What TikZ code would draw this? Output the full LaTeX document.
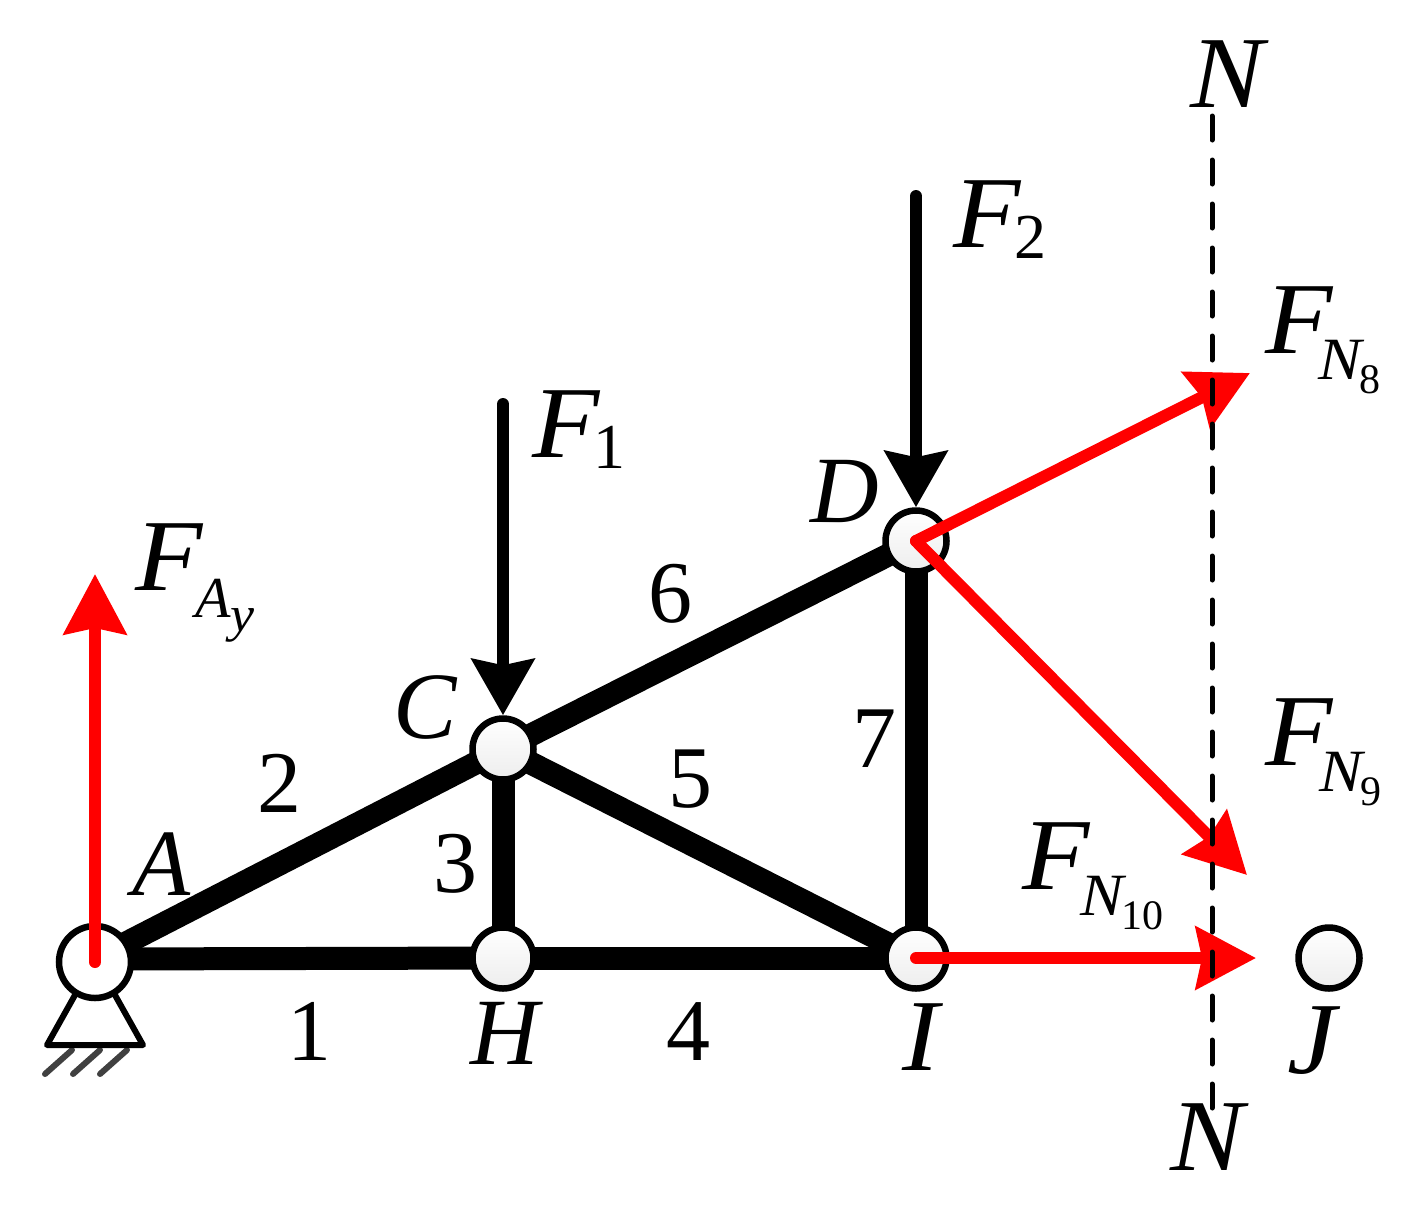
\documentclass[tikz,border=0pt]{standalone}
\usepackage{fontspec}
\setmainfont{Liberation Serif}
\newfontfamily\wideff[FakeStretch=1.08]{Liberation Serif}
\usetikzlibrary{arrows.meta}
\newcommand{\bigf}{\fontsize{95}{95}\selectfont}
\newcommand{\widef}{\fontsize{102}{102}\selectfont\wideff\itshape}
\newcommand{\midf}{\fontsize{60}{60}\selectfont\wideff\itshape}
\newcommand{\smlf}{\fontsize{42}{42}\selectfont\normalfont}
\newcommand{\forcelbl}[3]{{\widef F}\kern#3\raisebox{-26pt}{{\midf #1}\kern-2pt\raisebox{-14pt}{\smlf #2}}}
\newcommand{\plainlbl}[1]{{\widef F}\kern-6pt\raisebox{-11pt}{\fontsize{64}{64}\selectfont\normalfont #1}}
\tikzset{
  x=1pt,y=-1pt,
  joint/.style={circle,draw=black,line width=6.5pt,minimum size=61pt,inner sep=0pt,top color=white,bottom color=black!7},
  pin/.style={circle,draw=black,line width=6.5pt,minimum size=72pt,inner sep=0pt,fill=white},
  beam/.style={line width=23pt,black},
  redforce/.style={line width=12pt,red,line cap=round,-{Stealth[length=60pt,width=62pt,inset=6pt]}},
  blackforce/.style={line width=12pt,black,line cap=round,-{Stealth[length=56pt,width=62pt,inset=6pt]}},
  section/.style={line width=5pt,black,line cap=round,dash pattern=on 24pt off 20pt},
  support/.style={line width=6pt,black,line join=round,line cap=round},
  hatch/.style={line width=6pt,black!75,line cap=round},
  lbl/.style={anchor=base west,inner sep=0pt,outer sep=0pt},
  num/.style={lbl,font=\fontsize{88}{88}\selectfont},
  letter/.style={lbl,font=\bigf\itshape},
  wideletter/.style={lbl,font=\widef}
}
\begin{document}
\begin{tikzpicture}
\useasboundingbox (0,0) rectangle (1423,1205);
\coordinate (Ac) at (95,959);
\coordinate (Cc) at (503,749);
\coordinate (Hc) at (503,958);
\coordinate (Ic) at (916,958);
\coordinate (Dc) at (916,541);
\draw[beam] (Ac) -- (Hc);
\draw[beam] (Hc) -- (Ic);
\draw[beam] (Ac) -- (Cc);
\draw[beam] (Cc) -- (Dc);
\draw[beam] (Cc) -- (Hc);
\draw[beam] (Cc) -- (Ic);
\draw[beam] (Dc) -- (Ic);
\coordinate (s1) at (75,995);
\coordinate (s2) at (47,1045);
\coordinate (s3) at (143,1045);
\coordinate (s4) at (115,995);
\coordinate (h1a) at (72,1050); \coordinate (h1b) at (45,1074);
\coordinate (h2a) at (100,1050); \coordinate (h2b) at (73,1074);
\coordinate (h3a) at (127,1050); \coordinate (h3b) at (100,1074);
\draw[hatch] (h1a) -- (h1b);
\draw[hatch] (h2a) -- (h2b);
\draw[hatch] (h3a) -- (h3b);
\draw[support] (s1) -- (s2) -- (s3) -- (s4);
\node[pin] (A) at (95,962) {};
\node[joint] (C) at (Cc) {};
\node[joint] (H) at (Hc) {};
\node[joint] (I) at (Ic) {};
\node[joint] (D) at (Dc) {};
\node[joint] (J) at (1329,958) {};
\coordinate (ftA) at (95,574);
\coordinate (ft8) at (1250,373);
\coordinate (ft9) at (1247,875);
\coordinate (ft10) at (1256,958);
\coordinate (f1s) at (503,404);
\coordinate (f2s) at (916,196);
\draw[blackforce] (f1s) -- (C.north);
\draw[blackforce] (f2s) -- (D.north);
\draw[redforce] (A.center) -- (ftA);
\draw[redforce] (D.center) -- (ft8);
\draw[redforce] (D.center) -- (ft9);
\draw[redforce] (I.center) -- (ft10);
\coordinate (nt) at (1212,116);
\coordinate (nb) at (1212,1108);
\draw[section] (nt) -- (nb);
\node[letter] (lA) at (132,895) {A};
\node[letter] (lC) at (393,738) {C};
\node[letter] (lD) at (810,522) {D};
\node[letter] (lH) at (470,1064) {H};
\node[wideletter] (lI) at (902,1070) {I};
\node[wideletter] (lJ) at (1287,1073) {J};
\node[wideletter] (lNt) at (1190,107) {N};
\node[wideletter] (lNb) at (1170,1170) {N};
\node[num] (n1) at (287,1060) {1};
\node[num] (n2) at (257,812) {2};
\node[num] (n3) at (433,892) {3};
\node[num] (n4) at (666,1060) {4};
\node[num] (n5) at (668,807) {5};
\node[num] (n6) at (648,622) {6};
\node[num] (n7) at (852,767) {7};
\node[lbl] (lF1) at (532,457) {\plainlbl{1}};
\node[lbl] (lF2) at (953,247) {\plainlbl{2}};
\node[lbl] (lFA) at (135,590) {{\widef F}\kern-7pt\raisebox{-27pt}{{\fontsize{58}{58}\selectfont\normalfont\itshape A}\kern0pt\raisebox{-14pt}{\midf\fontsize{50}{50}\selectfont y}}};
\node[lbl] (lF8) at (1265,353) {\forcelbl{N}{8}{-14pt}};
\node[lbl] (lF9) at (1265,765) {\forcelbl{N}{9}{-13pt}};
\node[lbl] (lF10) at (1022,889) {\forcelbl{N}{10}{-9pt}};
\end{tikzpicture}
\end{document}
